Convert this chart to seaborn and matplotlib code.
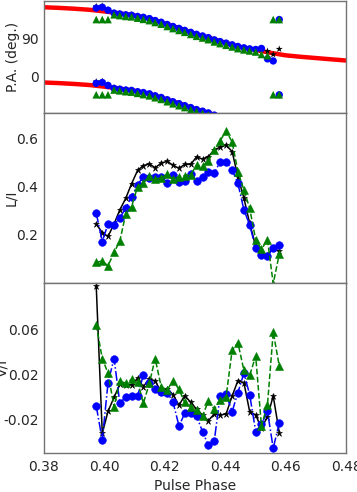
import matplotlib
matplotlib.use('Agg')
import matplotlib.pyplot as plt
import numpy as np
import pandas as pd
import seaborn as sns

# pulse phase of each profile bin
phase = [0.3973, 0.3993, 0.4012, 0.4032, 0.4051, 0.4071, 0.4090, 0.4110,
         0.4129, 0.4149, 0.4168, 0.4188, 0.4208, 0.4227, 0.4247, 0.4266,
         0.4286, 0.4305, 0.4325, 0.4344, 0.4364, 0.4383, 0.4403, 0.4423,
         0.4442, 0.4462, 0.4481, 0.4501, 0.4520, 0.4540, 0.4559, 0.4579]

# position angle (deg.)
pa_black = [167, 168, 159, 152, 150, 148, 147, 144, 141, 138, 133, 129,
            124, 119, 114, 110, 105, 100, 96, 92, 87, 83, 79, 75,
            71, 68, 65.5, 64, 63, 60, 52, 65]
pa_blue = [163, 165, 158, 151, 149, 147, 146, 143, 141, 138, 133.3, 129.2,
           123.8, 119, 114.4, 109.7, 105, 100.3, 96.4, 92.4, 87, 83, 79.2, 75.2,
           71.2, 68, 65.5, 64, 66.5, 41.5, 36.5, 135.6]
pa_green = [135.6, 135.6, 135.6, 147, 145, 143, 142, 139, 136, 133, 128.5, 124.5,
            119, 114, 109.5, 105, 100, 95.5, 91.5, 87.5, 82, 78, 74, 70,
            66, 63, 60.5, 58, 52, 49, 135.6, 135.6]

# RVM fit curve
fit_phase = [0.380, 0.385, 0.390, 0.395, 0.400, 0.405, 0.410, 0.415, 0.420,
             0.425, 0.430, 0.435, 0.440, 0.445, 0.450, 0.455, 0.460, 0.465,
             0.470, 0.475, 0.480]
fit_pa = [165, 163.5, 161.5, 159, 155, 150.5, 145, 137.5, 126,
          114.5, 101.5, 91, 80, 70, 63, 56, 50, 46.5,
          43.5, 40.5, 37.6]

# linear polarisation fraction
li_black = [0.245, 0.209, 0.193, 0.245, 0.303, 0.352, 0.412, 0.467, 0.487, 0.494,
            0.478, 0.497, 0.505, 0.488, 0.476, 0.492, 0.492, 0.523, 0.514, 0.524,
            0.552, 0.563, 0.572, 0.545, 0.441, 0.352, 0.248, 0.152, 0.124, 0.117,
            0.145, 0.131]
li_blue = [0.290, 0.172, 0.245, 0.242, 0.270, 0.311, 0.358, 0.407, 0.441, 0.436,
           0.438, 0.441, 0.416, 0.448, 0.420, 0.425, 0.452, 0.425, 0.441, 0.462,
           0.455, 0.503, 0.503, 0.469, 0.414, 0.303, 0.241, 0.145, 0.117, 0.110,
           0.145, 0.159]
li_green = [0.086, 0.091, 0.071, 0.127, 0.173, 0.288, 0.317, 0.400, 0.414, 0.445,
            0.431, 0.436, 0.451, 0.431, 0.441, 0.445, 0.449, 0.488, 0.484, 0.507,
            0.550, 0.590, 0.630, 0.585, 0.462, 0.386, 0.310, 0.179, 0.140, 0.179,
            -0.003, 0.120]

# circular polarisation fraction
vi_black = [0.0985, -0.0325, -0.013, -0.0005, 0.011, 0.0105, 0.0105, 0.0165,
            0.009, 0.016, 0.014, 0.0046, 0.007, 0.002, -0.0075, 0.001,
            -0.005, -0.011, -0.0162, -0.0212, -0.0153, -0.0162, -0.0153, 0.0007,
            0.0143, 0.0125, -0.0132, -0.0162, -0.028, -0.0177, 0.0007, -0.0319]
vi_blue = [-0.0082, -0.0384, 0.0125, 0.034, -0.0052, -0.0005, 0.0007, 0.0007,
           0.0194, 0.012, 0.0066, 0.0046, 0.0037, -0.0044, -0.026, -0.0147,
           -0.0147, -0.017, -0.031, -0.0429, -0.039, 0.0007, 0.0022, -0.0132,
           0.0037, 0.021, 0.002, -0.031, -0.0245, -0.013, -0.0458, -0.0233]
vi_green = [0.0638, 0.034, 0.021, -0.009, 0.014, 0.012, 0.0155, 0.0135,
            -0.0058, 0.012, 0.034, 0.009, 0.006, 0.0143, 0.0066, -0.005,
            -0.009, -0.012, -0.017, -0.004, -0.011, -0.003, 0.000, 0.0416,
            0.0481, 0.0235, 0.019, 0.0362, -0.026, -0.007, 0.0575, 0.0274]

sns.set_style('white')
plt.rcParams['font.family'] = ['Liberation Sans Narrow', 'DejaVu Sans']
plt.rcParams['axes.unicode_minus'] = False

fig = plt.figure(figsize=(3.57, 4.92), dpi=100)
left, width = 0.1232, 0.846
ax_pa = fig.add_axes([left, 0.7703, width, 0.2277])
ax_l = fig.add_axes([left, 0.4248, width, 0.3455])
ax_v = fig.add_axes([left, 0.0793, width, 0.3455])

# --- P.A. panel: fit curve and points, shown twice (PA and PA-180)
fit = pd.DataFrame({'phase': fit_phase, 'pa': fit_pa})
for shift in (0, -180):
    sns.lineplot(x=fit['phase'], y=fit['pa'] + shift, color='red', lw=3.2,
                 ax=ax_pa, zorder=1)
    sns.scatterplot(x=phase, y=np.array(pa_black) + shift, marker='*', color='black',
                    s=28, edgecolor='none', ax=ax_pa, zorder=2)
    sns.scatterplot(x=phase, y=np.array(pa_blue) + shift, marker='o', color='blue',
                    s=28, edgecolor='none', ax=ax_pa, zorder=3)
    sns.scatterplot(x=phase, y=np.array(pa_green) + shift, marker='^', color='green',
                    s=30, edgecolor='none', ax=ax_pa, zorder=4)

ax_pa.set_ylim(-88, 180)
ax_pa.set_yticks([0, 90])
ax_pa.set_yticklabels(['0', '90'])
ax_pa.set_ylabel('P.A. (deg.)', family='DejaVu Sans', fontsize=10)

# --- L/I and V/I panels
series = [('black', '-', '*', 5, 1.1), ('blue', '-.', 'o', 5.5, 1.1), ('green', '--', '^', 5.5, 1.1)]
for ax, vals in ((ax_l, (li_black, li_blue, li_green)), (ax_v, (vi_black, vi_blue, vi_green))):
    for (col, ls, mk, ms, lw), y in zip(series, vals):
        sns.lineplot(x=phase, y=y, color=col, linestyle=ls, marker=mk, markersize=ms,
                     markeredgecolor=col, markeredgewidth=0.4, lw=lw, ax=ax)

ax_l.set_ylim(0.0, 0.705)
ax_l.set_yticks([0.2, 0.4, 0.6])
ax_l.set_yticklabels(['0.2', '0.4', '0.6'])
ax_l.set_ylabel('L/I', family='DejaVu Sans', fontsize=10)

ax_v.set_ylim(-0.050, 0.1012)
ax_v.set_yticks([-0.02, 0.02, 0.06])
ax_v.set_yticklabels(['-0.02', '0.02', '0.06'])
ax_v.set_ylabel('V/I', family='DejaVu Sans', fontsize=10)

# y-label anchors in axes fractions
ax_pa.yaxis.set_label_coords(-0.079, 0.5)
ax_l.yaxis.set_label_coords(-0.085, 0.5)
ax_v.yaxis.set_label_coords(-0.113, 0.5)

xt = [0.38, 0.40, 0.42, 0.44, 0.46, 0.48]
for ax in (ax_pa, ax_l, ax_v):
    ax.set_xlim(0.38, 0.48)
    for sp in ax.spines.values():
        sp.set_color('0.45')
        sp.set_linewidth(1.0)
    ax.tick_params(axis='y', labelsize=10, length=2, color='0.45', direction='out', pad=2)

ax_pa.set_xticks([0.38, 0.39, 0.40, 0.41, 0.42, 0.43, 0.44, 0.45, 0.46, 0.47, 0.48])
ax_pa.tick_params(axis='x', direction='in', length=2, color='0.55', labelbottom=False)
ax_l.set_xticks([])
ax_v.set_xticks(xt)
ax_v.set_xticklabels(['%.2f' % t for t in xt])
ax_v.tick_params(axis='x', labelsize=10, length=2, color='0.45', direction='out', pad=3)
ax_v.set_xlabel('Pulse Phase', fontsize=10, labelpad=4)

for ax in (ax_pa, ax_l):
    ax.set_xlabel('')

fig.savefig('out.png', dpi=100)
